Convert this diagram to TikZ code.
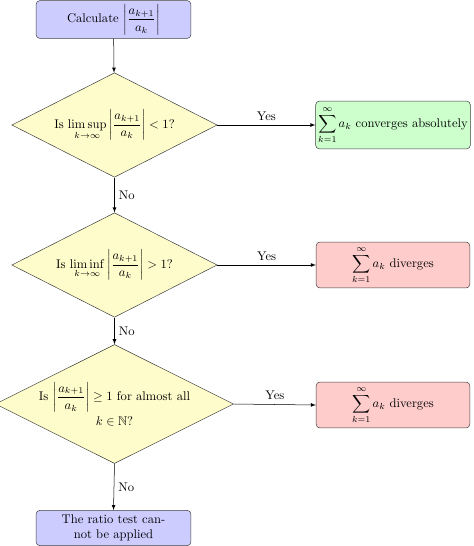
\documentclass[tikz,border=0pt]{standalone}
\usepackage{amsmath,amssymb}
\usetikzlibrary{shapes.geometric,arrows}
\begin{document}
\begin{tikzpicture}[x=0.794pt,y=-0.794pt,
  box/.style={draw=black!75,rounded corners=3pt,align=center,inner sep=2pt},
  procbox/.style={box,fill=blue!20,minimum width=123pt},
  yesbox/.style={box,fill=green!20,minimum width=122pt,minimum height=38pt},
  nobox/.style={box,fill=red!20,minimum width=122pt,minimum height=36.5pt},
  decision/.style={diamond,draw=black!75,fill=yellow!20,align=center,inner sep=0pt,aspect=2},
  conn/.style={draw,->,>=latex}]
\useasboundingbox (0,0) rectangle (474,546);
\node[procbox,minimum height=30pt] (calc) at (113.5,19.5) {Calculate $\displaystyle\left|\frac{a_{k+1}}{a_k}\right|$};
\node[decision,minimum width=163pt,minimum height=83pt] (d1) at (114.5,125) {Is $\displaystyle\limsup_{k\to\infty}\left|\frac{a_{k+1}}{a_k}\right|<1$?};
\node[yesbox] (r1) at (393,125) {$\displaystyle\sum_{k=1}^{\infty} a_k$ converges absolutely};
\node[decision,minimum width=163pt,minimum height=83pt] (d2) at (114.5,265) {Is $\displaystyle\liminf_{k\to\infty}\left|\frac{a_{k+1}}{a_k}\right|>1$?};
\node[nobox] (r2) at (393,265) {$\displaystyle\sum_{k=1}^{\infty} a_k$ diverges};
\node[decision,minimum width=182pt,minimum height=89pt] (d3) at (114.5,404) {Is $\displaystyle\left|\frac{a_{k+1}}{a_k}\right|\geq 1$ for almost all\\[2pt] $k\in\mathbb{N}$?};
\node[nobox] (r3) at (393,405) {$\displaystyle\sum_{k=1}^{\infty} a_k$ diverges};
\node[procbox,minimum height=28pt] (stop) at (113.5,528) {The ratio test can-\\not be applied};
\path[conn] (calc) -- (d1);
\path[conn] (d1.east) -- node[above] {Yes} (r1.west);
\path[conn] (d1.south) -- node[right] {No} (d2.north);
\path[conn] (d2.east) -- node[above] {Yes} (r2.west);
\path[conn] (d2.south) -- node[right] {No} (d3.north);
\path[conn] (d3.east) -- node[above] {Yes} (r3.west);
\path[conn] (d3.south) -- node[right] {No} (stop.north);
\end{tikzpicture}
\end{document}
